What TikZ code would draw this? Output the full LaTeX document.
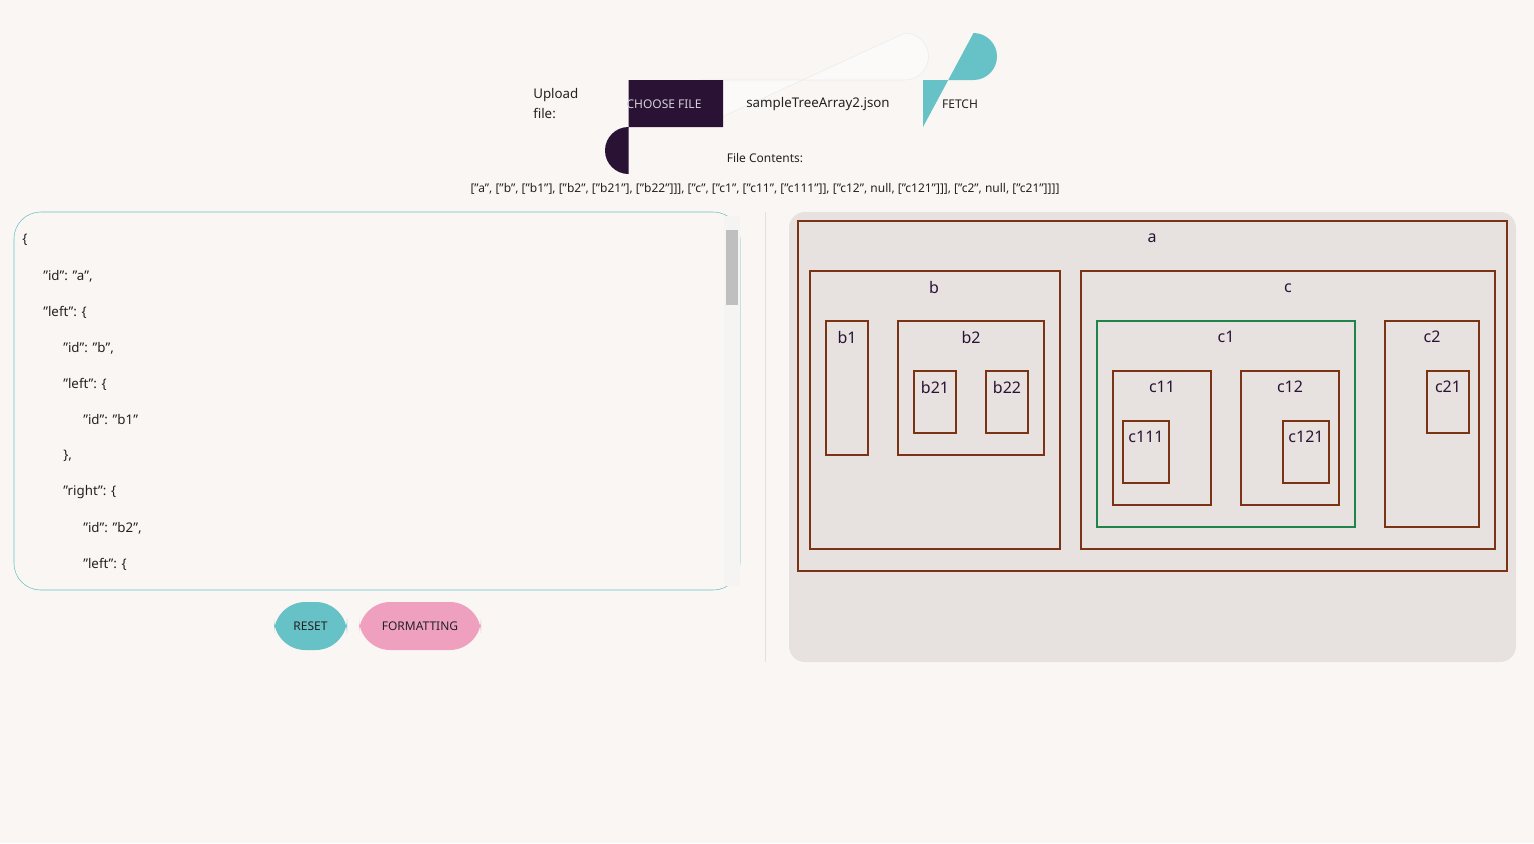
\documentclass[tikz,border=0pt]{standalone}
\usepackage{fontspec}
\setmainfont{Noto Sans}
\usetikzlibrary{positioning}
\definecolor{pagebg}{HTML}{FAF6F4}
\definecolor{panel}{HTML}{E7E2DF}
\definecolor{brick}{HTML}{7A3413}
\definecolor{leaf}{HTML}{1E8449}
\definecolor{teal}{HTML}{67C2C7}
\definecolor{pink}{HTML}{EFA0BE}
\definecolor{plum}{HTML}{2A1235}
\definecolor{ink}{HTML}{222222}
\begin{document}
\begin{tikzpicture}[x=0.75pt,y=-0.75pt,
    tree box/.style={draw=brick, line width=1.5pt},
    group box/.style={draw=leaf, line width=1.5pt},
    box label/.style={font=\bfseries\large, text=plum, anchor=center},
    code/.style={font=\normalsize, text=ink, anchor=west},
    btn/.style={font=\small, text=ink}]
  \tikzstyle{every node}=[inner sep=0pt]
  % page and margins
  \fill[pagebg] (0,0) rectangle (1534,843);
  \useasboundingbox (0,0) rectangle (1534,843);

  % upload row
  \node[font=\normalsize, text=ink, align=left, anchor=west] (upload) at (533,104) {Upload\\[3pt]file:};
  \fill[white!50!pagebg, draw=black!8] (700,80) -- (905,80) arc (90:-90:23.5) -- (700,127) -- cycle;
  \fill[plum] (628.5,80) -- (723,80) -- (723,127) -- (628.5,127) arc (270:90:23.5);
  \fill[teal] (923,80) -- (973.5,80) arc (90:-90:23.5) -- (923,127) -- cycle;
  \node[btn, font=\small\bfseries, text=white!80!plum] (choose) at (664,104) {CHOOSE FILE};
  \node[text=ink] (fname) at (818,104) {sampleTreeArray2.json};
  \node[btn] (fetch) at (960,104) {FETCH};

  \node[font=\small, text=ink] (contents) at (765,158) {File Contents:};
  \node[font=\small, text=ink] (array) at (765,189)
    {["a", ["b", ["b1"], ["b2", ["b21"], ["b22"]]], ["c", ["c1", ["c11", ["c111"]], ["c12", null, ["c121"]]], ["c2", null, ["c21"]]]]};

  % editor
  \draw[teal, fill=pagebg, rounded corners=20] (14,212) rectangle (740,590);
  \fill[white!60!panel] (724,216) rectangle (740,586);
  \fill[black!25] (726,230) rectangle (738,305);
  \node[code] (l1) at (22,240) {\{};
  \node[code] (l2) at (43,276) {"id": "a",};
  \node[code] (l3) at (43,312) {"left": \{};
  \node[code] (l4) at (63,348) {"id": "b",};
  \node[code] (l5) at (63,384) {"left": \{};
  \node[code] (l6) at (83,420) {"id": "b1"};
  \node[code] (l7) at (63,456) {\},};
  \node[code] (l8) at (63,492) {"right": \{};
  \node[code] (l9) at (83,528) {"id": "b2",};
  \node[code] (l10) at (83,564) {"left": \{};

  % buttons
  \fill[teal, rounded corners=23.5] (274,602) rectangle (347,650);
  \fill[pink, rounded corners=23.5] (359,602) rectangle (481,650);
  \node[btn] (reset) at (310.5,626) {RESET};
  \node[btn] (format) at (420,626) {FORMATTING};

  \draw[black!12] (765,212) -- (765,662);

  % tree panel
  \fill[panel, rounded corners=12] (789,212) rectangle (1516,662);
  \draw[tree box] (798,221) rectangle (1507,571);   \node[box label] (a) at (1152,238) {a};
  \draw[tree box] (810,271) rectangle (1060,549);   \node[box label] (b) at (934,287) {b};
  \draw[tree box] (1081,271) rectangle (1495,549);  \node[box label] (c) at (1288,288) {c};
  \draw[tree box] (826,321) rectangle (868,455);    \node[box label] (b1) at (847,337) {b1};
  \draw[tree box] (898,321) rectangle (1044,455);   \node[box label] (b2) at (971,337) {b2};
  \draw[tree box] (914,371) rectangle (956,433);    \node[box label] (b21) at (935,387) {b21};
  \draw[tree box] (986,371) rectangle (1028,433);   \node[box label] (b22) at (1007,387) {b22};
  \draw[group box] (1097,321) rectangle (1355,527); \node[box label] (c1) at (1226,337) {c1};
  \draw[tree box] (1113,371) rectangle (1211,505);  \node[box label] (c11) at (1162,387) {c11};
  \draw[tree box] (1123,421) rectangle (1169,483);  \node[box label] (c111) at (1146,437) {c111};
  \draw[tree box] (1241,371) rectangle (1339,505);  \node[box label] (c12) at (1290,387) {c12};
  \draw[tree box] (1283,421) rectangle (1329,483);  \node[box label] (c121) at (1306,437) {c121};
  \draw[tree box] (1385,321) rectangle (1479,527);  \node[box label] (c2) at (1432,337) {c2};
  \draw[tree box] (1427,371) rectangle (1469,433);  \node[box label] (c21) at (1448,387) {c21};
\end{tikzpicture}
\end{document}
